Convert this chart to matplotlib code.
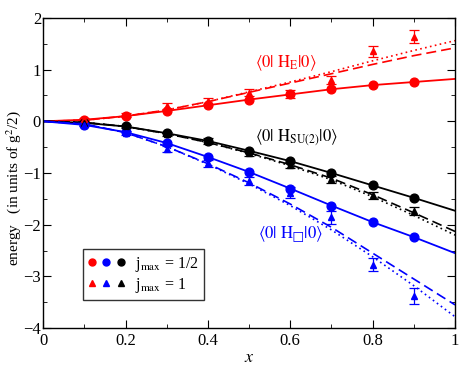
import numpy as np
import matplotlib
matplotlib.use("Agg")
import matplotlib.pyplot as plt
from matplotlib.lines import Line2D
from matplotlib.legend_handler import HandlerTuple

plt.rcParams['font.family'] = ['Liberation Serif', 'DejaVu Serif']
plt.rcParams['mathtext.fontset'] = 'stix'

# data points (x = 0.1 ... 0.9)
x_pts = [0.1, 0.2, 0.3, 0.4, 0.5, 0.6, 0.7, 0.8, 0.9]

e_half = [0.03, 0.10, 0.20, 0.31, 0.42, 0.52, 0.62, 0.70, 0.76]
e_one = [0.04, 0.12, 0.30, 0.40, 0.55, 0.53, 0.80, 1.35, 1.64]
e_one_err = [0.03, 0.04, 0.06, 0.06, 0.07, 0.07, 0.08, 0.11, 0.12]

su_half = [-0.03, -0.10, -0.23, -0.38, -0.57, -0.77, -1.00, -1.24, -1.48]
su_one = [-0.03, -0.10, -0.24, -0.38, -0.62, -0.85, -1.12, -1.43, -1.73]
su_one_err = [0.02, 0.03, 0.04, 0.05, 0.05, 0.06, 0.07, 0.07, 0.08]

pl_half = [-0.07, -0.21, -0.42, -0.69, -0.98, -1.30, -1.63, -1.95, -2.24]
pl_one = [-0.07, -0.23, -0.53, -0.81, -1.15, -1.38, -1.86, -2.77, -3.38]
pl_one_err = [0.03, 0.04, 0.06, 0.07, 0.08, 0.10, 0.12, 0.13, 0.15]

# fit curves (x = 0 ... 1)
x_fit = [0.0, 0.1, 0.2, 0.3, 0.4, 0.5, 0.6, 0.7, 0.8, 0.9, 1.0]
e_fit_half = [0, 0.03, 0.10, 0.20, 0.31, 0.42, 0.52, 0.62, 0.70, 0.76, 0.82]
e_fit_dash = [0, 0.02, 0.10, 0.22, 0.38, 0.56, 0.74, 0.92, 1.10, 1.27, 1.42]
e_fit_dot = [0, 0.02, 0.10, 0.22, 0.38, 0.57, 0.76, 0.96, 1.17, 1.37, 1.56]
su_fit_half = [0, -0.03, -0.10, -0.23, -0.38, -0.57, -0.77, -1.00, -1.24, -1.48, -1.73]
su_fit_dash = [0, -0.02, -0.10, -0.24, -0.41, -0.61, -0.84, -1.10, -1.42, -1.77, -2.13]
su_fit_dot = [0, -0.02, -0.10, -0.24, -0.41, -0.62, -0.86, -1.13, -1.46, -1.82, -2.20]
pl_fit_half = [0, -0.07, -0.21, -0.42, -0.69, -0.98, -1.30, -1.63, -1.95, -2.24, -2.55]
pl_fit_dash = [0, -0.05, -0.22, -0.49, -0.82, -1.19, -1.60, -2.05, -2.55, -3.05, -3.55]
pl_fit_dot = [0, -0.05, -0.22, -0.49, -0.83, -1.21, -1.63, -2.10, -2.62, -3.18, -3.78]

RED = '#ff0000'
BLUE = '#0000ff'
BLACK = '#000000'

fig = plt.figure(figsize=(4.74, 3.65), dpi=100)
ax = fig.add_axes([0.091, 0.101, 0.869, 0.850])

groups = [
    (RED, e_half, e_one, e_one_err, e_fit_half, e_fit_dash, e_fit_dot),
    (BLACK, su_half, su_one, su_one_err, su_fit_half, su_fit_dash, su_fit_dot),
    (BLUE, pl_half, pl_one, pl_one_err, pl_fit_half, pl_fit_dash, pl_fit_dot),
]
for col, half, one, err, fh, fd, ft in groups:
    ax.plot(x_fit, fh, color=col, lw=1.3)
    ax.plot(x_fit, fd, color=col, lw=1.2, ls=(0, (6, 3)))
    ax.plot(x_fit, ft, color=col, lw=1.2, ls=(0, (1, 2)))
    ax.plot(x_pts, half, 'o', color=col, ms=6.3)
    ax.errorbar(x_pts, one, yerr=err, fmt='^', color=col, ms=5,
                elinewidth=0.9, capsize=3.5, capthick=0.9)

ax.text(0.515, 1.13, r'$\langle 0|\ \mathrm{H}_{\mathrm{E}}|0\rangle$',
        color=RED, fontsize=12, ha='left', va='center')
ax.text(0.515, -0.32, r'$\langle 0|\ \mathrm{H}_{\mathrm{SU(2)}}|0\rangle$',
        color=BLACK, fontsize=12, ha='left', va='center')
ax.text(0.522, -2.2, r'$\langle 0|\ \mathrm{H}_{□}|0\rangle$',
        color=BLUE, fontsize=12, ha='left', va='center')

ax.set_xlim(0, 1)
ax.set_ylim(-4, 2)
ax.set_xticks(np.arange(0, 1.01, 0.2))
ax.set_xticklabels(['0', '0.2', '0.4', '0.6', '0.8', '1'])
ax.set_xticks(np.arange(0.1, 1.0, 0.2), minor=True)
ax.set_yticks(np.arange(-4, 2.1, 1))
ax.set_yticks(np.arange(-3.5, 2, 1), minor=True)
ax.tick_params(which='both', direction='in', top=True, right=True, labelsize=12)
ax.tick_params(axis='y', which='major', pad=1.5)
ax.tick_params(which='major', length=6)
ax.tick_params(which='minor', length=3)
for s in ax.spines.values():
    s.set_linewidth(1.0)

ax.set_xlabel(r'$x$', fontsize=13, labelpad=0)
ax.set_ylabel(r'energy   (in units of g$^2$/2)', fontsize=11)
ax.yaxis.set_label_coords(-0.05, 0.45)

h_half = tuple(Line2D([], [], marker='o', ls='', color=c, ms=5) for c in (RED, BLUE, BLACK))
h_one = tuple(Line2D([], [], marker='^', ls='', color=c, ms=4) for c in (RED, BLUE, BLACK))
leg = ax.legend([h_half, h_one],
                [r'j$_{\mathrm{max}}$ = 1/2', r'j$_{\mathrm{max}}$ = 1'],
                handler_map={tuple: HandlerTuple(ndivide=None, pad=0.5)},
                loc='lower left', bbox_to_anchor=(0.097, 0.09),
                fontsize=11.5, frameon=True, fancybox=False, handlelength=2.2,
                borderaxespad=0, handletextpad=0.7, labelspacing=0.1,
                borderpad=0.35)
leg.get_frame().set_edgecolor('black')
leg.get_frame().set_linewidth(1.0)

fig.savefig('out.png', dpi=100)
